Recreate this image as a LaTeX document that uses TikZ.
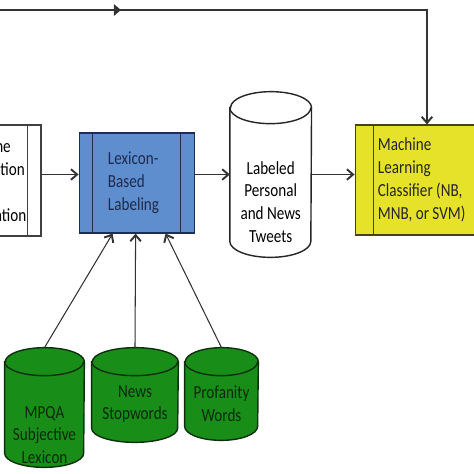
\documentclass[tikz,border=0pt]{standalone}
\usepackage{fontspec}
\setmainfont{Carlito}[FakeStretch=0.82]
\usetikzlibrary{positioning, arrows.meta, calc, decorations.markings}

\newlength{\pxu}
\setlength{\pxu}{0.02cm}

\definecolor{lexblue}{RGB}{94,142,206}
\definecolor{lexborder}{RGB}{28,46,84}
\definecolor{lextext}{RGB}{30,42,76}
\definecolor{mlyellow}{RGB}{230,226,42}
\definecolor{mlborder}{RGB}{70,66,30}
\definecolor{dbgreen}{RGB}{24,142,24}
\definecolor{dbborder}{RGB}{12,48,12}
\definecolor{dbtext}{RGB}{10,42,10}

% outline of a database drum round a named node: name, x radius, y radius, style
\newcommand{\drumdraw}[4]{%
  \draw[#4] ($(#1.north west)+(0,#3)$) -- ($(#1.south west)+(0,-#3)$)
    arc[start angle=180, end angle=360, x radius=#2\pxu, y radius=#3\pxu]
    -- ($(#1.north east)+(0,#3)$)
    arc[start angle=0, end angle=180, x radius=#2\pxu, y radius=#3\pxu] -- cycle;
  \draw[#4, fill=none] ($(#1.north west)+(0,#3)$)
    arc[start angle=180, end angle=360, x radius=#2\pxu, y radius=#3\pxu];
}

\begin{document}
\begin{tikzpicture}[
    x=0.02cm, y=-0.02cm,
    every node/.style={font=\fontsize{10.5}{13}\selectfont},
    stage/.style={rectangle, draw=black!75, line width=0.7pt, fill=white, inner sep=0},
    lexbox/.style={stage, draw=lexborder, fill=lexblue, minimum width=115\pxu, minimum height=100\pxu},
    mlbox/.style={stage, draw=mlborder, fill=mlyellow, minimum width=120\pxu, minimum height=110\pxu},
    drum/.style={rectangle, inner sep=0},
    tweetdrum/.style={draw=black!85, line width=0.8pt, fill=white},
    greendrum/.style={draw=dbborder, line width=0.8pt, fill=dbgreen},
    txt/.style={inner sep=0, align=left},
    ctxt/.style={inner sep=0, align=center},
    arrow/.style={-{Straight Barb[length=3.5pt,width=6pt,line width=1.1pt]}, line width=0.6pt, draw=black!80},
    midtip/.style={postaction={decorate}, decoration={markings, mark=at position 2.82cm with {\arrow{Triangle[length=4pt,width=6.5pt]}}}}
]
\useasboundingbox (0,0) rectangle (474,474);

% Pipeline stages
\node[stage, minimum width=101\pxu, minimum height=111\pxu] (src) at (-9.5,180.5) {};
\node[lexbox, right=37\pxu of src, yshift=-2.5\pxu] (lex) {};
\node[drum, minimum width=81\pxu, minimum height=165\pxu, right=35\pxu of lex, yshift=8.5\pxu] (tweets) {};
\node[mlbox, right=43\pxu of tweets, yshift=-5.5\pxu] (ml) {};
\drumdraw{tweets}{40.5}{16}{tweetdrum}

% Inner bars of the boxes
\draw[line width=0.7pt, draw=black!75] ($(src.north east)+(-14,0)$) -- ($(src.south east)+(-14,0)$);
\draw[line width=0.7pt, draw=lexborder] ($(lex.north west)+(14,0)$) -- ($(lex.south west)+(14,0)$);
\draw[line width=0.7pt, draw=lexborder] ($(lex.north east)+(-14,0)$) -- ($(lex.south east)+(-14,0)$);
\draw[line width=0.7pt, draw=mlborder] ($(ml.north west)+(19,0)$) -- ($(ml.south west)+(19,0)$);

% Texts of the stages
\node[txt, anchor=east] (srctext) at ($(src.east)+(-15,0)$) {Machine\\Translation\\and\\Annotation};
\node[txt, text=lextext, right=29\pxu of lex.west] (lextext) {Lexicon-\\Based\\Labeling};
\node[ctxt] (tweetstext) at ($(tweets.center)+(0,27.5)$) {Labeled\\Personal\\and News\\Tweets};
\node[txt, text=black!85, right=23\pxu of ml.west] (mltext) {Machine\\Learning\\Classifier (NB,\\MNB, or SVM)};

% Lexicon resources
\node[drum, minimum width=79\pxu, minimum height=119\pxu] (mpqa) at (44.5,407.5) {};
\node[drum, minimum width=86\pxu, minimum height=94\pxu] (stop) at (135,395) {};
\node[drum, minimum width=73\pxu, minimum height=92\pxu] (prof) at (221.5,394) {};
\drumdraw{mpqa}{39.5}{14}{greendrum}
\drumdraw{stop}{43}{14}{greendrum}
\drumdraw{prof}{36.5}{14}{greendrum}
\node[ctxt, text=dbtext] (mpqatext) at ($(mpqa.center)+(0,27.5)$) {MPQA\\Subjective\\Lexicon};
\node[ctxt, text=dbtext] (stoptext) at ($(stop.center)+(0,9)$) {News\\Stopwords};
\node[ctxt, text=dbtext] (proftext) at ($(prof.center)+(0,10)$) {Profanity\\Words};

% Feed line along the top
\coordinate (feed) at (-20,10);
\coordinate (turn) at (427,10);
\draw[arrow, midtip] (feed) -- (turn) -- (turn |- ml.north);

% Arrows between stages
\draw[arrow] (src.east |- tweets.center) -- (lex.west |- tweets.center);
\draw[arrow] (lex.east |- tweets.center) -- (tweets.west);
\draw[arrow] (tweets.east) -- (ml.west |- tweets.center);

% Arrows from the resources
\draw[arrow] (mpqa.north) -- ($(lex.south west)+(34,0)$);
\draw[arrow] (stop.north) -- ($(lex.south west)+(57,0)$);
\draw[arrow] (prof.north) -- ($(lex.south west)+(87,0)$);

\end{tikzpicture}
\end{document}
